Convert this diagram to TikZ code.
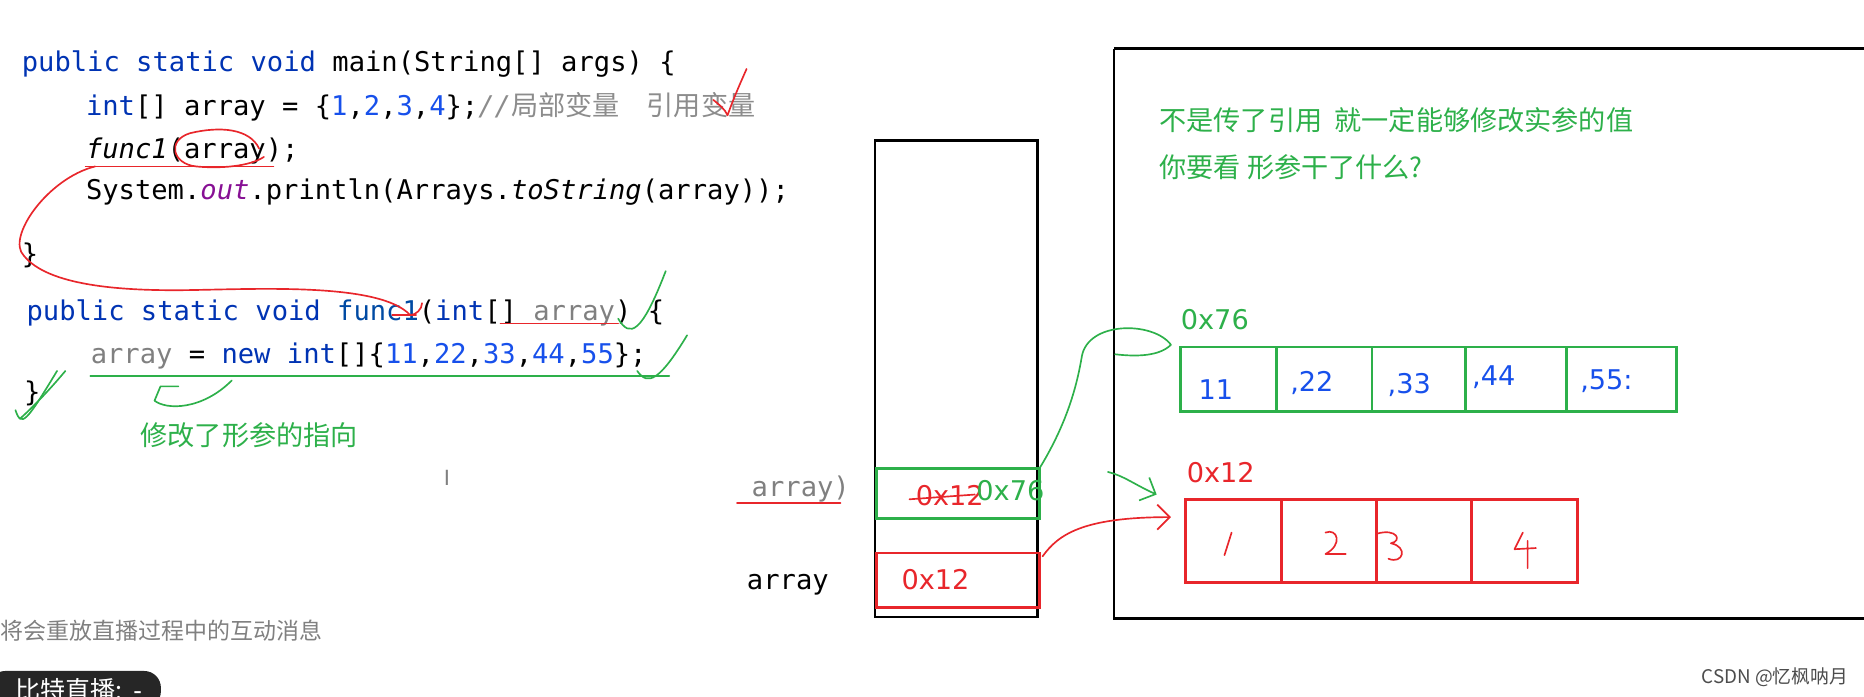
\documentclass[tikz,border=0pt]{standalone}
\usepackage{fontspec}
\setmonofont{DejaVu Sans Mono}
\setsansfont{DejaVu Sans}
\newfontfamily\cjk{Noto Sans CJK SC}
\usetikzlibrary{arrows.meta}
\definecolor{kw}{HTML}{0033B3}
\definecolor{num}{HTML}{1750EB}
\definecolor{cm}{HTML}{8C8C8C}
\definecolor{pur}{HTML}{871094}
\definecolor{gr}{HTML}{2DB04A}
\definecolor{rd}{HTML}{E8262B}
\definecolor{gy}{HTML}{808080}
\begin{document}
\begin{tikzpicture}[x=0.02cm,y=-0.02cm,
  code/.style={anchor=base west,inner sep=0,font=\ttfamily\fontsize{13}{15}\selectfont},
  cn/.style={anchor=base west,inner sep=0,font=\cjk\fontsize{13}{15}\selectfont},
  lbl/.style={anchor=base west,inner sep=0,font=\sffamily\fontsize{13}{15}\selectfont},
  box/.style={line width=1.3pt},
  hand/.style={line width=0.8pt,line cap=round,line join=round}]
\useasboundingbox (0,0) rectangle (1568,586);
% code
\node[code] (l1) at (18,60) {\textcolor{kw}{public static void} main(String[] args) \{};
\node[code] (l2) at (72,97) {\textcolor{kw}{int}[] array = \{\textcolor{num}{1},\textcolor{num}{2},\textcolor{num}{3},\textcolor{num}{4}\};\textcolor{cm}{\textit{//}{\cjk\itshape 局部变量\quad 引用变量}}};
\node[code] (l3) at (72,133) {\textit{func1}(array);};
\node[code] (l4) at (72,168) {System.\textcolor{pur}{\textit{out}}.println(Arrays.\textit{toString}(array));};
\node[code] (l5) at (18,222) {\}};
\node[code] (l6) at (22,270) {\textcolor{kw}{public static void} \textcolor{kw!70!teal}{func1}(\textcolor{kw}{int}[] \textcolor{gy}{array}) \{};
\node[code] (l7) at (76,306) {\textcolor{gy}{array} = \textcolor{kw}{new int}[]\{\textcolor{num}{11},\textcolor{num}{22},\textcolor{num}{33},\textcolor{num}{44},\textcolor{num}{55}\};};
\node[code] (l8) at (20,338) {\}};
\node[cn,text=gr] (note1) at (118,375) {修改了形参的指向};
\node[anchor=base,inner sep=0,font=\sffamily\fontsize{10}{12}\selectfont,text=gy] (cur) at (376,408) {I};
% stack
\draw[line width=1.3pt] (736,118) rectangle (873,519);
\node[box,draw=gr,minimum width=137*0.02cm,minimum height=42*0.02cm,anchor=north west,inner sep=0] (gcell) at (736,393) {};
\node[box,draw=rd,minimum width=137*0.02cm,minimum height=46*0.02cm,anchor=north west,inner sep=0] (rcell) at (736,464) {};
\node[lbl,text=rd] (ox12a) at (770,425) {0x12};
\node[lbl,text=gr] (ox76a) at (821,421) {0x76};
\node[lbl,text=rd] (ox12b) at (758,496) {0x12};
\node[code,text=gy] (arr1) at (632,418) {array)};
\node[code] (arr2) at (628,496) {array};
% heap
\draw[line width=1.3pt] (937,41) -- (1568,41) (937,41) -- (937,520) -- (1568,520);
\node[cn,text=gr] (t1) at (975,110) {不是传了引用\ \ 就一定能够修改实参的值};
\node[cn,text=gr] (t2) at (975,149) {你要看 形参干了什么?};
\node[lbl,text=gr] (h76) at (993,277) {0x76};
\node[lbl,text=rd] (h12) at (998,406) {0x12};
\draw[box,draw=gr] (993,292) rectangle (1410,346);
\foreach \x in {1074,1154,1233,1318} \draw[box,draw=gr] (\x,292) -- (\x,346);
\node[lbl,text=num] (g1) at (1008,336) {11};
\node[lbl,text=num] (g2) at (1085,329) {,22};
\node[lbl,text=num] (g3) at (1167,331) {,33};
\node[lbl,text=num] (g4) at (1238,324) {,44};
\node[lbl,text=num] (g5) at (1329,328) {,55:};
\draw[box,draw=rd] (997,420) rectangle (1327,490);
\foreach \x in {1078,1158,1238} \draw[box,draw=rd] (\x,420) -- (\x,490);
\draw[hand,rd] (1036,448) -- (1030,467);
\draw[hand,rd] (1115,448) .. controls (1125,444) and (1130,458) .. (1115,466) -- (1132,466);
\draw[hand,rd] (1158,449) .. controls (1175,444) and (1180,455) .. (1170,457) .. controls (1185,460) and (1180,475) .. (1168,470);
\draw[hand,rd] (1281,448) -- (1274,462) -- (1292,461) (1285,455) -- (1285,478);
% hand-drawn strokes
\draw[hand,rd] (72,140) -- (230,140);
\draw[hand,rd] (218,125) .. controls (210,108) and (185,106) .. (160,112) .. controls (140,118) and (145,138) .. (165,140) .. controls (185,142) and (210,140) .. (222,132);
\draw[hand,rd] (80,140) .. controls (40,150) and (5,200) .. (20,215) .. controls (40,240) and (100,245) .. (160,244) .. controls (220,243) and (320,238) .. (345,265) .. controls (350,265) and (355,260) .. (355,255);
\draw[hand,rd] (330,265) -- (350,265);
\draw[hand,rd] (421,272) -- (520,272);
\draw[hand,rd] (600,84) .. controls (605,88) and (610,92) .. (612,97) .. controls (618,80) and (625,65) .. (628,58);
\draw[hand,rd] (620,423) -- (707,423);
\draw[hand,rd] (765,420) -- (820,416);
\draw[hand,rd,-{Straight Barb[length=6pt]}] (877,468) .. controls (890,450) and (910,435) .. (985,435);
\draw[hand,gr] (520,268) .. controls (530,285) and (540,280) .. (560,228);
\draw[hand,gr] (536,312) .. controls (545,325) and (555,320) .. (578,282);
\draw[hand,gr] (76,316) -- (563,316);
\draw[hand,gr] (13,345) .. controls (18,360) and (22,355) .. (48,312);
\draw[hand,gr] (17,352) .. controls (25,345) and (40,330) .. (55,312);
\draw[hand,gr] (130,337) .. controls (140,345) and (170,345) .. (195,320);
\draw[hand,gr] (130,337) -- (135,325) -- (150,325);
\draw[hand,gr] (875,393) .. controls (895,360) and (905,330) .. (910,300) .. controls (915,270) and (970,270) .. (985,290) .. controls (975,300) and (955,300) .. (938,298);
\draw[hand,gr,-{Straight Barb[length=6pt]}] (932,397) .. controls (945,400) and (955,408) .. (973,416);
% footer
\node[anchor=base west,inner sep=0,font=\cjk\fontsize{11}{13}\selectfont,text=gy] (f1) at (0,538) {将会重放直播过程中的互动消息};
\node[anchor=west,fill=black!85,rounded corners=8pt,text=white,font=\cjk\fontsize{12}{14}\selectfont,minimum width=145*0.02cm,minimum height=22*0.02cm] (f2) at (-10,580) {\ \ 比特直播: \texttt{-}};
\node[anchor=base east,inner sep=0,font=\cjk\fontsize{9}{11}\selectfont,text=black!70] (f3) at (1555,575) {CSDN @忆枫呐月};
\end{tikzpicture}
\end{document}
